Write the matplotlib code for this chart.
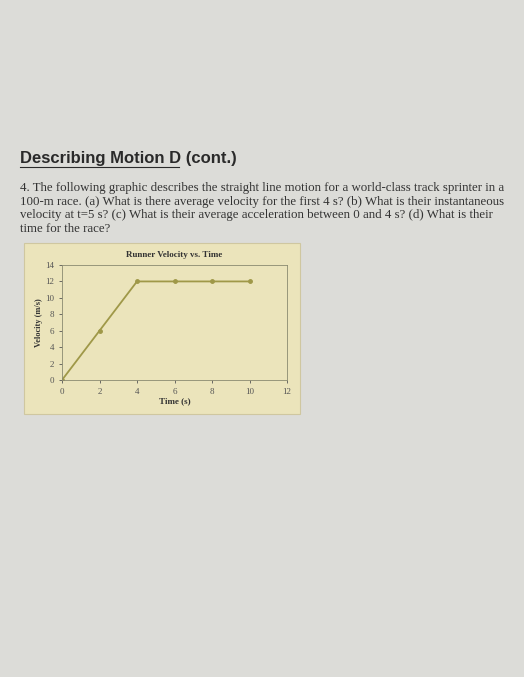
import matplotlib
matplotlib.use("Agg")
import matplotlib.pyplot as plt
from matplotlib.patches import Rectangle

time_s = [0, 2, 4, 6, 8, 10]
velocity = [0, 6, 12, 12, 12, 12]
xticks = [0, 2, 4, 6, 8, 10, 12]
yticks = [0, 2, 4, 6, 8, 10, 12, 14]

W, H = 524, 677
fig = plt.figure(figsize=(W/100, H/100), dpi=100)
fig.patch.set_facecolor("#dcdcd8")

def fx(x): return x / W
def fy(y): return 1 - y / H

fig.text(fx(20), fy(158), "Describing Motion D (cont.)", fontsize=12, fontweight="bold",
         color="#2a2a2a", family="Liberation Sans", va="center")
fig.add_artist(plt.Line2D([fx(20), fx(179)], [fy(167), fy(167)], color="#2a2a2a", lw=0.8))

para = ["4. The following graphic describes the straight line motion for a world-class track sprinter in a",
        "100-m race. (a) What is there average velocity for the first 4 s? (b) What is their instantaneous",
        "velocity at t=5 s? (c) What is their average acceleration between 0 and 4 s? (d) What is their",
        "time for the race?"]
for i, line in enumerate(para):
    fig.text(fx(20), fy(188 + i * 13.5), line, fontsize=9.25, family="Liberation Serif",
             color="#333333", va="center")

fig.patches.append(Rectangle((fx(24), fy(414)), (300-24)/W, (414-243)/H,
                             transform=fig.transFigure, facecolor="#ebe4bb",
                             edgecolor="#cfc7a0", lw=0.8, zorder=0))

ax = fig.add_axes([fx(62), fy(380), 225/W, 115/H])
ax.set_zorder(2)
ax.set_facecolor("#ebe4bb")
ax.plot(time_s, velocity, color="#9f9848", lw=1.3, marker="o", ms=2.5)
ax.set_xlim(0, 12)
ax.set_ylim(0, 14)
ax.set_xticks(xticks)
ax.set_yticks(yticks)
ax.tick_params(labelsize=6.5, colors="#555555", length=2, width=0.6)
for s in ax.spines.values():
    s.set_color("#8a8a70"); s.set_linewidth(0.6)
ax.set_title("Runner Velocity vs. Time", fontsize=6.5, fontweight="bold",
             family="Liberation Serif", color="#333333", pad=6)
ax.set_xlabel("Time (s)", fontsize=6.5, fontweight="bold", family="Liberation Serif",
              color="#333333", labelpad=1)
ax.set_ylabel("Velocity (m/s)", fontsize=6, fontweight="bold", family="Liberation Serif",
              color="#333333", labelpad=2)
for lab in ax.get_xticklabels() + ax.get_yticklabels():
    lab.set_family("Liberation Serif")

fig.savefig("out.png", dpi=100)
